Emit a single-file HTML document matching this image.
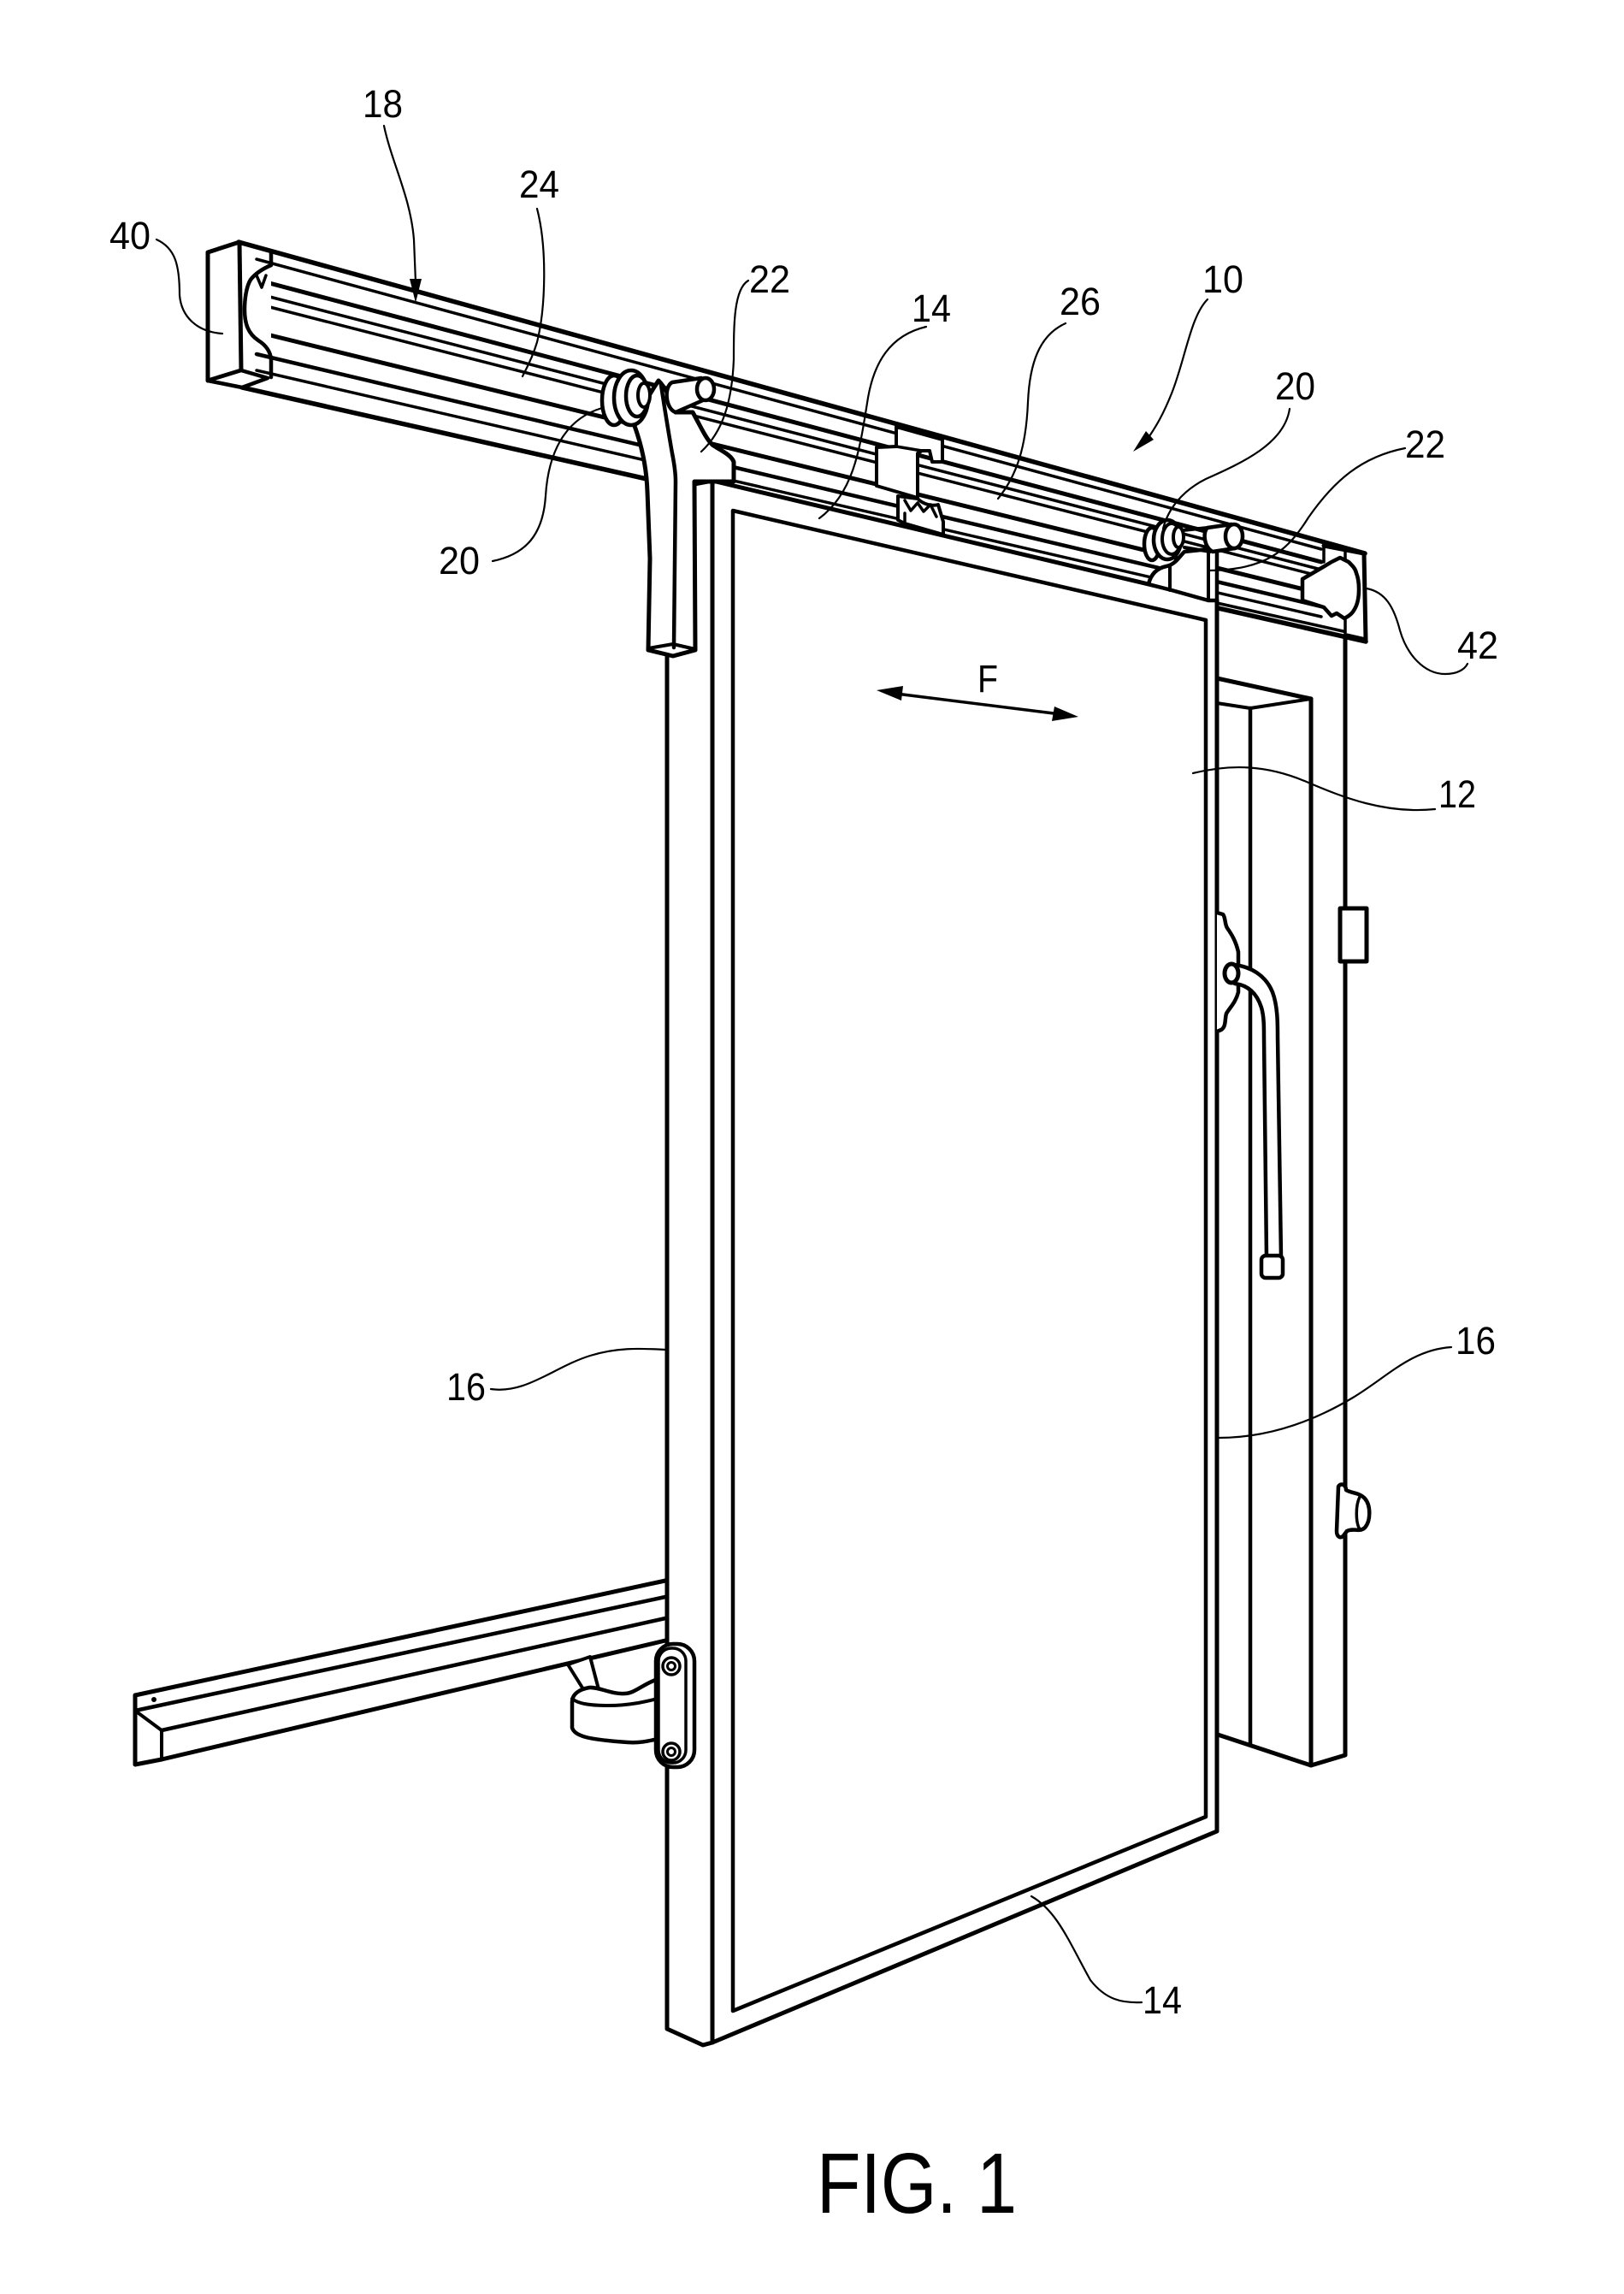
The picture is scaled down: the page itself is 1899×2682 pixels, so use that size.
<!DOCTYPE html>
<html>
<head>
<meta charset="utf-8">
<style>
html,body{margin:0;padding:0;background:#fff;overflow:hidden;}
svg{display:block;}
text{font-family:"Liberation Sans",Arial,sans-serif;font-size:45px;fill:#000;}
</style>
</head>
<body>
<svg xmlns="http://www.w3.org/2000/svg" width="1899" height="2682" viewBox="0 0 1899 2682">
<rect width="1899" height="2682" fill="#fff"/>
<g fill="none" stroke="#000" stroke-linejoin="round" stroke-linecap="round">

<!-- ===== Door frame (behind) ===== -->
<path d="M1573,745 L1573,2052 L1533,2064 L1424,2028" stroke-width="5"/>
<path d="M1533,817 L1533,2064" stroke-width="5"/>
<path d="M1462,828 L1462,2040" stroke-width="4.5"/>
<path d="M1423,793 L1533,817" stroke-width="5"/>
<path d="M1423,822 L1462,828 L1533,817" stroke-width="4"/>
<rect x="1567" y="1062" width="31" height="62" fill="#fff" stroke-width="5"/>
<path d="M1565,1738 C1568,1733 1574,1736 1574,1742 C1580,1746 1590,1745 1596,1752 C1603,1760 1603,1778 1596,1786 C1590,1792 1582,1786 1575,1790 L1572,1794 C1568,1800 1563,1797 1563,1790 Z" fill="#fff" stroke-width="4.5"/>
<path d="M1590,1750 C1585,1760 1585,1780 1590,1788" stroke-width="3.5"/>

<!-- ===== Lower guide rail (behind door) ===== -->
<path d="M158,1982 L778,1848" stroke-width="5"/>
<path d="M158,2000 L778,1867" stroke-width="4.5"/>
<path d="M189,2023 L778,1892" stroke-width="4.5"/>
<path d="M189,2057 L778,1918" stroke-width="5"/>
<path d="M158,1982 L158,2063 L189,2057" stroke-width="5"/>
<path d="M158,2000 L189,2023 L189,2057" stroke-width="4"/>
<circle cx="180" cy="1987" r="3" fill="#000" stroke="none"/>

<!-- ===== Top beam / rail ===== -->
<path d="M279,283 L1596,647" stroke-width="5.5"/>
<path d="M283,453 L1597,750" stroke-width="5.5"/>
<path d="M300,303 L1545,642" stroke-width="3.5"/>
<path d="M300,327 L1545,657" stroke-width="5"/>
<path d="M300,343 L1545,666" stroke-width="3.5"/>
<path d="M300,355 L1545,674" stroke-width="3.5"/>
<path d="M300,388 L1545,694" stroke-width="5"/>
<path d="M300,414 L1545,709" stroke-width="4.5"/>
<path d="M300,433 L1545,721" stroke-width="3.5"/>
<path d="M1423,705 L1575,739" stroke-width="3.5"/>

<!-- left end block 40 -->
<path d="M243,295 L280,283 L282,433 L243,445 Z" fill="#fff" stroke-width="5"/>
<path d="M243,445 L282,433 L313,442 L283,453 Z" fill="#fff" stroke-width="4.5"/>
<path d="M317,296 L317,310 C310,313 300,318 293,327 C288,335 286,350 286,362 C286,378 290,390 302,398 C310,403 316,410 317,420 L317,441" fill="#fff" stroke-width="4.5"/>
<path d="M300,322 L306,336 L311,322" stroke-width="3.5"/>

<!-- right end plate 42 -->
<path d="M1548,638 L1595,647 L1597,748 L1575,743" fill="#fff" stroke-width="5"/>
<path d="M1548,638 L1548,657 M1573,643 L1573,653 M1573,720 L1573,742" stroke-width="3.5"/>
<path d="M1523,677 L1547,663 L1557,657 L1567,652 L1577,657 C1582,662 1585,665 1586,670 C1590,680 1590,698 1586,708 C1583,715 1580,719 1572,723 L1563,717 L1557,720 L1548,710 L1523,702 Z" fill="#fff" stroke-width="4.5"/>

<!-- ===== Door ===== -->
<path d="M780,572 L833,562 L833,2388 L822,2391 L780,2372 Z" fill="#fff" stroke-width="5"/>
<path d="M833,562 L1423,702 L1423,2141 L833,2388 Z" fill="#fff" stroke-width="5"/>
<path d="M857,597 L1410,725 L1410,2124 L857,2351 Z" stroke-width="4.5"/>

<!-- beam joint/break detail -->
<path d="M1025,523 L1048,522 L1048,499 L1102,514 L1102,540 L1090,540 L1087,527 L1078,527 L1073,530 L1073,582 L1025,568 Z" fill="#fff" stroke-width="4"/>
<path d="M1048,522 L1078,527" stroke-width="3.5"/>
<path d="M1050,580 L1073,583 C1080,590 1090,592 1097,590 L1103,610 L1103,625 L1058,612 L1050,608 Z" fill="#fff" stroke-width="4"/>
<path d="M1058,585 L1065,597 L1073,588 L1080,598 L1088,590 L1095,604" stroke-width="3.5"/>
<path d="M1058,600 L1058,612" stroke-width="3.5"/>

<!-- ===== Left hanger 22 & roller 20 ===== -->
<path d="M770,445 C760,460 748,480 742,498 C750,520 756,545 757,575 L760,653 L758,760 L787,767 L813,760 L812,563 L858,563 L858,540 C855,532 845,528 833,520 C825,512 820,500 810,482 L790,482 C785,470 780,455 770,445 Z" fill="#fff" stroke-width="5"/>
<path d="M773,450 C776,470 779,490 786,530 C789,545 790,555 790,563 L788,757" stroke-width="4.5"/>
<path d="M758,758 L787,753 L813,759" stroke-width="4"/>
<ellipse cx="718" cy="468" rx="14" ry="29" fill="#fff" stroke-width="4.5"/>
<ellipse cx="738" cy="465" rx="20" ry="32" fill="#fff" stroke-width="4.5"/>
<ellipse cx="745" cy="463" rx="13" ry="24" fill="#fff" stroke-width="4.5"/>
<ellipse cx="753" cy="462" rx="7" ry="14" fill="#fff" stroke-width="4"/>
<path d="M820,442 L786,447 C776,452 778,478 790,482 L822,468 Z" fill="#fff" stroke-width="4.5"/>
<ellipse cx="825" cy="455" rx="10" ry="13" fill="#fff" stroke-width="4.5"/>

<!-- ===== Right hanger 22 & roller 20 ===== -->
<path d="M1343,683 C1346,670 1354,664 1364,662 C1374,660 1378,652 1385,645 L1413,642 L1423,642 L1423,702 L1413,702 L1370,690 Z" fill="#fff" stroke-width="4.5"/>
<path d="M1413,643 L1413,702 M1368,662 L1368,690" stroke-width="4"/>
<ellipse cx="1347" cy="636" rx="9" ry="19" fill="#fff" stroke-width="4.5"/>
<ellipse cx="1365" cy="631" rx="16" ry="23" fill="#fff" stroke-width="4.5"/>
<ellipse cx="1370" cy="630" rx="11" ry="18" fill="#fff" stroke-width="4"/>
<ellipse cx="1378" cy="628" rx="6" ry="12" fill="#fff" stroke-width="4"/>
<path d="M1383,620 L1412,617 M1385,640 L1415,645" stroke-width="4"/>
<path d="M1412,617 L1440,613 L1444,641 L1418,645 C1408,640 1406,622 1412,617 Z" fill="#fff" stroke-width="4.5"/>
<ellipse cx="1443" cy="627" rx="10" ry="14" fill="#fff" stroke-width="4.5"/>

<!-- ===== Door handle ===== -->
<path d="M1423,1067 L1430,1069 C1433,1072 1432,1080 1435,1085 C1440,1092 1445,1100 1448,1113 L1448,1160 C1445,1172 1438,1178 1434,1185 C1432,1192 1434,1200 1428,1204 L1423,1206" fill="#fff" stroke-width="4.5"/>
<path d="M1443,1128 C1462,1130 1480,1140 1488,1160 C1494,1176 1494,1196 1494,1212 L1498,1470 L1481,1470 L1478,1212 C1478,1200 1478,1188 1475,1178 C1470,1162 1460,1152 1444,1150 Z" fill="#fff" stroke-width="4.5"/>
<ellipse cx="1440" cy="1138" rx="8" ry="11" fill="#fff" stroke-width="5"/>
<rect x="1475" y="1468" width="25" height="26" rx="5" fill="#fff" stroke-width="4.5"/>

<!-- ===== Lower bracket (hinge clamp) ===== -->
<path d="M664,1946 L690,1937 L700,1975 L684,1978 Z" fill="#fff" stroke-width="4"/>
<path d="M769,1963 C750,1970 742,1980 730,1980 C715,1981 700,1972 689,1973 C678,1975 669,1980 669,1990 L669,2020 C672,2030 689,2034 734,2037 C750,2038 760,2035 769,2033 Z" fill="#fff" stroke-width="4.5"/>
<path d="M669,1986 C676,1992 690,1994 712,1994 C735,1994 752,1990 769,1986" stroke-width="4"/>
<rect x="767" y="1922" width="45" height="144" rx="20" fill="#fff" stroke-width="4.5"/>
<rect x="770" y="1927" width="32" height="134" rx="15" stroke-width="3.5"/>
<circle cx="785" cy="1948" r="10" fill="#fff" stroke-width="3.5"/>
<circle cx="785" cy="1948" r="4.5" stroke-width="3"/>
<circle cx="785" cy="2048" r="10" fill="#fff" stroke-width="3.5"/>
<circle cx="785" cy="2048" r="4.5" stroke-width="3"/>

<!-- ===== Leader lines ===== -->
<g stroke-width="2.2">
<path d="M449,147 C458,190 480,230 484,280 L486,330"/>
<path d="M628,244 C640,290 638,360 628,400 C622,420 615,432 611,440"/>
<path d="M183,280 C205,290 210,310 210,345 C212,370 230,388 260,390"/>
<path d="M875,328 C858,338 858,380 858,420 C856,470 845,505 820,528"/>
<path d="M576,656 C615,648 635,625 638,580 C641,530 660,490 704,477"/>
<path d="M1083,382 C1040,392 1022,425 1015,465 C1006,520 1000,575 958,606"/>
<path d="M1246,378 C1215,392 1204,425 1202,470 C1200,520 1190,555 1167,583"/>
<path d="M1412,350 C1392,370 1386,420 1370,460 C1360,485 1352,498 1344,510"/>
<path d="M1508,478 C1502,518 1455,540 1410,560 C1382,574 1366,595 1360,618"/>
<path d="M1643,524 C1592,534 1560,562 1530,605 C1505,645 1480,666 1413,667"/>
<path d="M1598,688 C1620,692 1630,710 1637,737 C1645,765 1665,788 1690,788 C1705,788 1713,782 1716,776"/>
<path d="M1395,904 C1440,893 1482,894 1530,915 C1570,932 1620,952 1678,946"/>
<path d="M1697,1575 C1650,1578 1622,1610 1582,1634 C1532,1664 1480,1681 1425,1681"/>
<path d="M574,1624 C615,1630 648,1598 690,1585 C725,1574 755,1577 780,1578"/>
<path d="M1206,2217 C1236,2234 1250,2270 1275,2315 C1293,2338 1312,2342 1335,2341"/>
</g>
<!-- F arrow -->
<path d="M1040,810 L1248,836" stroke-width="3.5"/>
</g>

<!-- arrowheads -->
<g fill="#000" stroke="none">
<polygon points="486,354 479,326 493,326"/>
<polygon points="1325,528 1349,514 1340,504"/>
<polygon points="1025,807 1054,819 1056,802"/>
<polygon points="1261,838 1230,843 1233,826"/>
</g>

<!-- ===== Labels ===== -->
<text x="424" y="137" textLength="47" lengthAdjust="spacingAndGlyphs">18</text>
<text x="607" y="231" textLength="47" lengthAdjust="spacingAndGlyphs">24</text>
<text x="128" y="291" textLength="48" lengthAdjust="spacingAndGlyphs">40</text>
<text x="876" y="342" textLength="48" lengthAdjust="spacingAndGlyphs">22</text>
<text x="1066" y="376" textLength="46" lengthAdjust="spacingAndGlyphs">14</text>
<text x="1239" y="368" textLength="48" lengthAdjust="spacingAndGlyphs">26</text>
<text x="1406" y="342" textLength="48" lengthAdjust="spacingAndGlyphs">10</text>
<text x="1491" y="467" textLength="47" lengthAdjust="spacingAndGlyphs">20</text>
<text x="1643" y="535" textLength="47" lengthAdjust="spacingAndGlyphs">22</text>
<text x="1704" y="770" textLength="48" lengthAdjust="spacingAndGlyphs">42</text>
<text x="513" y="671" textLength="48" lengthAdjust="spacingAndGlyphs">20</text>
<text x="1682" y="944" textLength="44" lengthAdjust="spacingAndGlyphs">12</text>
<text x="1702" y="1583" textLength="47" lengthAdjust="spacingAndGlyphs">16</text>
<text x="522" y="1637" textLength="46" lengthAdjust="spacingAndGlyphs">16</text>
<text x="1336" y="2354" textLength="46" lengthAdjust="spacingAndGlyphs">14</text>
<text x="1143" y="809" textLength="24" lengthAdjust="spacingAndGlyphs">F</text>
<text x="955" y="2587" style="font-size:100px" textLength="234" lengthAdjust="spacingAndGlyphs">FIG. 1</text>
</svg>
</body>
</html>
